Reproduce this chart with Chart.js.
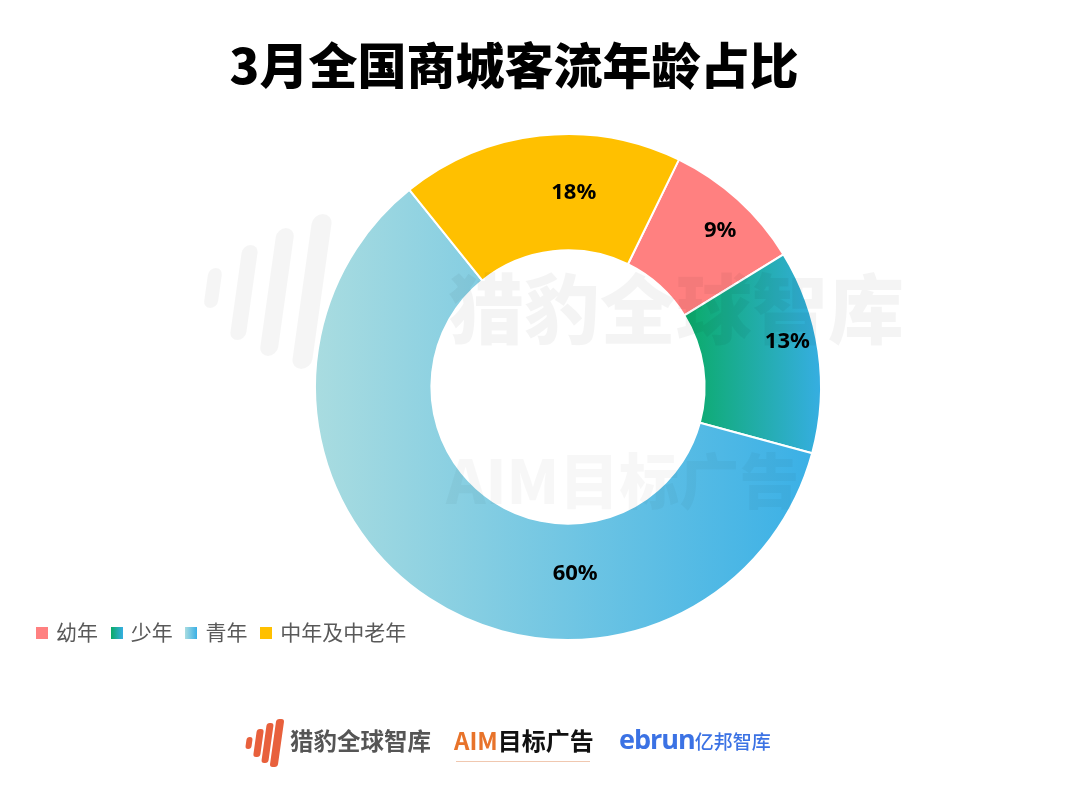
<!DOCTYPE html>
<html>
<head>
<meta charset="utf-8">
<script src="https://cdn.jsdelivr.net/npm/chart.js@4.4.1/dist/chart.umd.min.js"></script>
<style>
  body { margin: 0; background: #fff; }
  #wrap { position: relative; width: 1080px; height: 785px; overflow: hidden; background: #fff;
          font-family: "Noto Sans CJK SC", "Noto Sans", sans-serif; }
  #grafico { position: absolute; left: 0; top: 0; }
  .titulo { position: absolute; left: 0; width: 1028px; top: 30px; text-align: center;
            font-size: 49px; font-weight: 900; color: #000; line-height: 66px; }
  .marca { position: absolute; color: rgba(0,0,0,0.045); font-weight: 900; pointer-events: none; white-space: nowrap; }
  .legenda { position: absolute; left: 36px; top: 616px; font-size: 21px; color: #595959; white-space: nowrap; }
  .legenda span.q { display: inline-block; width: 12px; height: 12px; margin-right: 8px; vertical-align: 1px; }
  .legenda span.t { margin-right: 8px; }
  .rodape { position: absolute; top: 724px; font-weight: 700; white-space: nowrap; }
  .barra { position: absolute; background: #e8603c; border-radius: 3px; transform: skewX(-8deg); }
</style>
</head>
<body>
<div id="wrap">
  <!-- marcas d'agua -->
  <div class="barra" style="left:206px;top:268px;width:14px;height:40px;background:rgba(0,0,0,0.04);border-radius:7px"></div>
  <div class="barra" style="left:236px;top:245px;width:16px;height:95px;background:rgba(0,0,0,0.04);border-radius:8px"></div>
  <div class="barra" style="left:268px;top:228px;width:18px;height:128px;background:rgba(0,0,0,0.04);border-radius:9px"></div>
  <div class="barra" style="left:302px;top:214px;width:20px;height:155px;background:rgba(0,0,0,0.04);border-radius:10px"></div>

  <canvas id="grafico" width="1080" height="785"></canvas>

  <div class="marca" style="left:448px;top:250px;font-size:76px;">猎豹全球智库</div>
  <div class="marca" style="left:446px;top:434px;font-size:60px;color:rgba(0,0,0,0.03)">AIM目标广告</div>

  <div class="titulo">3月全国商城客流年龄占比</div>

  <div class="legenda">
    <span class="q" style="background:#ff8080"></span><span class="t">幼年</span>
    <span class="q" style="background:linear-gradient(90deg,#0aab67,#36aee2)"></span><span class="t">少年</span>
    <span class="q" style="background:linear-gradient(90deg,#a9dce0,#3ab0e6)"></span><span class="t">青年</span>
    <span class="q" style="background:#ffc000"></span><span class="t">中年及中老年</span>
  </div>

  <!-- rodape com logos -->
  <div class="barra" style="left:246px;top:737px;width:6px;height:12px"></div>
  <div class="barra" style="left:255px;top:729px;width:7px;height:28px"></div>
  <div class="barra" style="left:264px;top:723px;width:7px;height:40px"></div>
  <div class="barra" style="left:273px;top:719px;width:8px;height:48px"></div>
  <div class="rodape" style="left:290px;top:723px;font-size:23.5px;color:#555;">猎豹全球智库</div>
  <div class="rodape" style="left:454px;top:722px;font-size:24px;color:#111;"><span style="color:#e8732a">AIM</span>目标广告</div>
  <div style="position:absolute;left:456px;top:761px;width:134px;height:1px;background:#f0c8b0"></div>
  <div class="rodape" style="left:619px;top:720px;font-size:27px;color:#3b72e4;font-family:'Open Sans',sans-serif;letter-spacing:-1px;">ebrun<span style="font-family:'Noto Sans CJK SC';font-size:19px;font-weight:500;letter-spacing:0">亿邦智库</span></div>
</div>

<script>
  // dados do grafico
  var categorias = ['幼年', '少年', '青年', '中年及中老年'];
  var valores = [9, 13, 60, 18];
  var rotulos = ['9%', '13%', '60%', '18%'];
  var cores = ['#ff8080', '#20aca8', '#78c8e2', '#ffc000'];

  // gradientes (cor inicial, cor final) por fatia; null = cor lisa
  var gradientes = [null, ['#0aab67', '#36aee2'], ['#a9dce0', '#3ab0e6'], null];

  // ajuste da posicao dos rotulos (graus, fator do raio)
  var desvioAngulo = [2, -3.5, -35.4, 8.1];
  var fatorRaio = [1.12, 1.15, 0.96, 1.0];

  function faixaX(p){
    var min = Infinity, max = -Infinity;
    var raios = [p.innerRadius, p.outerRadius];
    for (var k = 0; k <= 90; k++) {
      var a = p.startAngle + (p.endAngle - p.startAngle) * k / 90;
      for (var j = 0; j < 2; j++) {
        var x = p.x + Math.cos(a) * raios[j];
        if (x < min) min = x;
        if (x > max) max = x;
      }
    }
    return [min, max];
  }

  // aplica os gradientes depois do layout, quando os arcos ja tem geometria
  var pluginGradiente = {
    id: 'gradiente',
    beforeDatasetsDraw: function(chart){
      var arcs = chart.getDatasetMeta(0).data;
      arcs.forEach(function(arc, i){
        if (!gradientes[i]) return;
        var p = arc.getProps(['x','y','startAngle','endAngle','innerRadius','outerRadius'], true);
        var fx = faixaX(p);
        var g = chart.ctx.createLinearGradient(fx[0], 0, fx[1], 0);
        g.addColorStop(0, gradientes[i][0]);
        g.addColorStop(1, gradientes[i][1]);
        arc.options.backgroundColor = g;
      });
    }
  };

  var pluginRotulos = {
    id: 'rotulos',
    afterDatasetsDraw: function(chart){
      var ctx = chart.ctx;
      var arcs = chart.getDatasetMeta(0).data;
      ctx.save();
      ctx.font = 'bold 22px "Noto Sans", sans-serif';
      ctx.fillStyle = '#000';
      ctx.textAlign = 'center';
      ctx.textBaseline = 'middle';
      arcs.forEach(function(arc, i){
        var p = arc.getProps(['x','y','startAngle','endAngle','innerRadius','outerRadius'], true);
        var meio = (p.startAngle + p.endAngle) / 2 + desvioAngulo[i] * Math.PI / 180;
        var r = (p.innerRadius + p.outerRadius) / 2 * fatorRaio[i];
        ctx.fillText(rotulos[i], p.x + Math.cos(meio) * r, p.y + Math.sin(meio) * r);
      });
      ctx.restore();
    }
  };

  var type = 'doughnut';

  var data = {
    labels: categorias,
    datasets: [
      {
        data: valores,
        backgroundColor: function(c){ return cores[c.dataIndex]; },
        borderColor: '#ffffff',
        borderWidth: 2
      }
    ]
  };

  var options = {
    responsive: false,
    animation: false,
    rotation: 26,
    cutout: '54%',
    layout: { padding: { left: 314, right: 258, top: 133, bottom: 144 } },
    plugins: {
      legend: { display: false },
      tooltip: { enabled: false }
    }
  };

  var ctx = document.getElementById('grafico').getContext('2d');
  new Chart(ctx, { type: type, data: data, options: options, plugins: [pluginGradiente, pluginRotulos] });
</script>
</body>
</html>
